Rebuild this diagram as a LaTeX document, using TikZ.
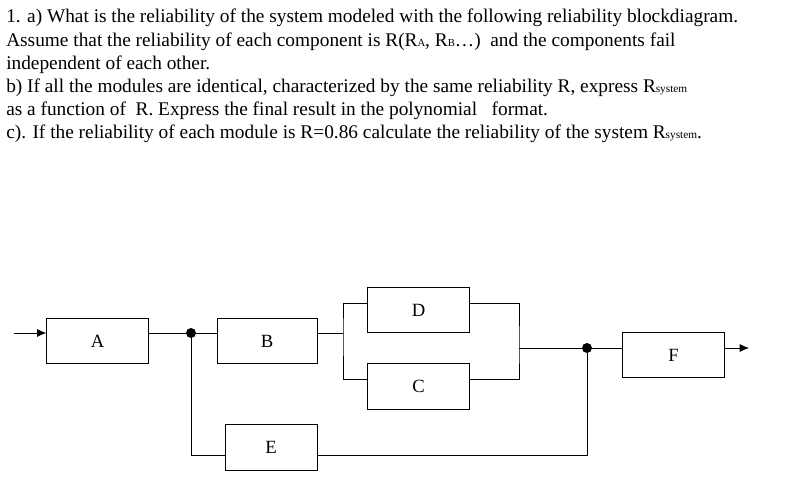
\documentclass[tikz,border=0pt]{standalone}
\usepackage{fontspec}
\setmainfont{Liberation Serif}
\usetikzlibrary{arrows.meta}
\begin{document}
\begin{tikzpicture}[x=0.75pt,y=-0.75pt,
  blk/.style={draw,line width=0.6pt,minimum width=75pt,minimum height=34pt,inner sep=0pt,font=\fontsize{14}{14}\selectfont},
  wire/.style={line width=0.6pt},
  tx/.style={anchor=base west,inner sep=0pt,font=\fontsize{14.5}{16}\selectfont},
  dotn/.style={circle,fill,inner sep=0pt,minimum size=7.5pt}]
\useasboundingbox (0,0) rectangle (786,502);
\node[tx] (t1) at (6,23) {1. a) What is the reliability of the system modeled with the following reliability blockdiagram.};
\node[tx] (t2) at (6,47) {Assume that the reliability of each component is R(R{\footnotesize A}, R{\footnotesize B}\ldots)\ \ and the components fail};
\node[tx] (t3) at (6,70) {independent of each other.};
\node[tx] (t4) at (6,93) {b) If all the modules are identical, characterized by the same reliability R, express R{\fontsize{8.5}{9}\selectfont system}};
\node[tx] (t5) at (6,116) {as a function of\ \ R. Express the final result in the polynomial\ \ \ format.};
\node[tx] (t6) at (6,139) {c). If the reliability of each module is R=0.86 calculate the reliability of the system R{\fontsize{8.5}{9}\selectfont system}.};

\node[blk,minimum width=76pt] (A) at (97.5,341) {A};
\node[blk,minimum width=75pt] (B) at (267,341) {B};
\node[blk,minimum width=76pt] (D) at (418.5,310) {D};
\node[blk,minimum width=76pt] (C) at (418.5,386.5) {C};
\node[blk,minimum width=69pt] (E) at (271,447.5) {E};
\node[blk,minimum width=76pt] (F) at (673.5,355) {F};
\node[dotn] (d1) at (191,333) {};
\node[dotn] (d2) at (587,348) {};
\coordinate (in) at (14,333);
\coordinate (out) at (749,348);
\coordinate (bl) at (343,333);
\coordinate (mr) at (519,348);

\draw[wire,-{Latex[length=7pt,width=6pt]}] (in) -- (in -| A.west);
\draw[wire] (A.east |- d1) -- (d1) -- (B.west |- d1);
\draw[wire] (B.east |- bl) -- (bl);
\draw[wire] (D.west |- 0,303) -| (bl) |- (C.west |- 0,379);
\draw[wire] (D.east |- 0,303) -| (mr) |- (C.east |- 0,379);
\draw[wire] (mr) -- (d2) -- (F.west |- d2);
\draw[wire,-{Latex[length=7pt,width=6pt]}] (F.east |- out) -- (out);
\draw[wire] (d1) |- (E.west |- 0,455);
\draw[wire] (E.east |- 0,455) -| (d2);
\end{tikzpicture}
\end{document}
